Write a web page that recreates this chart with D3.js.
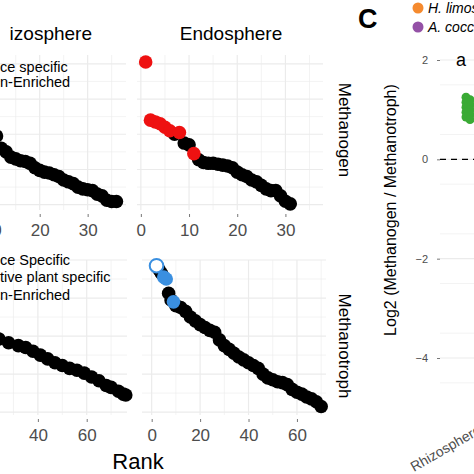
<!DOCTYPE html>
<html><head><meta charset="utf-8">
<script src="https://cdn.jsdelivr.net/npm/d3@7"></script>
<style>body{margin:0;background:#fff}svg{font-family:"Liberation Sans",Arial,sans-serif}</style>
</head><body>
<svg id="c" width="474" height="474"></svg>
<script>
// Data (ranks & values)
const rhizoMgRank = [1,2,3,4,5,6,7,8,9,10,11,12,13,14,15,16,17,18,19,20,21,22,23,24,25,26,27,28,29,30,31,32,33,34,35,36];
const rhizoMgVal  = [7.5,7,6.5,6,5.6,5.3,5,4.7,4.4,4.1,3.9,3.2,3.0,2.7,2.6,2.5,2.45,2.35,2.1,1.95,1.85,1.8,1.7,1.6,1.4,1.3,1.2,1.0,0.9,0.85,0.8,0.6,0.5,0.25,0.18,0.18];
const endoMgRank = [1,2,3,4,5,6,7,8,9,10,11,12,13,14,15,16,17,18,19,20,21,22,23,24,25,26,27,28,29,30,31];
const endoMgVal  = [8.1,4.8,4.7,4.6,4.4,4.2,4.0,4.1,3.5,3.4,2.9,2.55,2.4,2.35,2.35,2.3,2.25,2.2,2.1,1.85,1.7,1.6,1.4,1.3,1.1,0.9,0.8,0.8,0.5,0.2,0.05];
const endoMgType = ["s","s","s","s","s","s","n","s","n","n","s","n","n","n","n","n","n","n","n","n","n","n","n","n","n","n","n","n","n","n","n"];
const rhizoMtRead = [[10,9],[16,8.5],[20,8.1],[24,7.7],[28,7.3],[32,7.0],[35,6.8],[38,6.4],[41,6.0],[44,5.6],[47,5.2],[50,4.9],[53,4.6],[56,4.4],[59,4.1],[62,3.7],[65,3.3],[68,2.8],[70,2.6],[73,2.2],[75,1.9],[76,1.8]];
const endoMtRead = [[2,15.4],[3,15],[4,14.6],[5,14.2],[6,14.0],[7,12.5],[8,11.8],[9,11.6],[10,11.2],[12,11.0],[14,10.6],[16,10.0],[18,9.6],[20,9.2],[22,8.9],[24,8.6],[26,8.4],[28,7.6],[30,7.0],[32,6.6],[34,6.2],[36,5.8],[38,5.5],[40,5.2],[42,4.9],[44,4.6],[46,4.0],[48,3.6],[50,3.4],[52,3.2],[54,3.1],[56,2.9],[58,2.4],[60,2.1],[62,1.9],[64,1.6],[66,1.4],[68,1.1],[70,0.6]];
const endoMtType = {2:"open",5:"b",6:"b",9:"b"};
const ratioVals = [1.25,1.2,1.15,1.1,1.05,1.0,0.95,0.9,0.85,0.8];
const ratioTicks = [2,0,-2,-4];

const svg = d3.select("#c");
const grid = "#ebebeb";

function panel(x0,x1,y0,y1,xd,yd,xticks,minorX,yMaj){
  const id="cp"+Math.round(x0+500)+"_"+Math.round(y0);
  svg.append("clipPath").attr("id",id).append("rect").attr("x",Math.max(0,x0)).attr("y",y0-8).attr("width",x1-Math.max(0,x0)+8).attr("height",y1-y0+16);
  const x=d3.scaleLinear().domain(xd).range([x0,x1]);
  const y=d3.scaleLinear().domain(yd).range([y1,y0]);
  const gg=svg.append("g").attr("clip-path","url(#"+id+")");
  minorX.forEach(v=>gg.append("line").attr("x1",x(v)).attr("x2",x(v)).attr("y1",y0).attr("y2",y1).attr("stroke",grid).attr("stroke-width",0.6));
  xticks.forEach(v=>gg.append("line").attr("x1",x(v)).attr("x2",x(v)).attr("y1",y0).attr("y2",y1).attr("stroke",grid).attr("stroke-width",1.2));
  yMaj.forEach((v,i)=>gg.append("line").attr("x1",x0).attr("x2",x1).attr("y1",y(v)).attr("y2",y(v)).attr("stroke",grid).attr("stroke-width",i%2?0.6:1.2));
  const ax=svg.append("g").attr("transform","translate(0,"+(y1+4)+")").call(d3.axisBottom(x).tickValues(xticks).tickSize(3).tickFormat(d3.format("d")));
  ax.select(".domain").remove();ax.selectAll("line").attr("stroke","#777");
  ax.selectAll("text").attr("font-size",17).attr("fill","#4d4d4d").attr("dy","0.95em");
  return {g:gg,x,y};
}
const yMajTop=d3.range(0,8.6,1);
const yMajBot=d3.range(0,16.1,2);
const p1=panel(-61,126,55,210,[-1,38],[-0.3,8.5],[10,20,30],[15,25,35],yMajTop);
const p2=panel(137,323,55,210,[-0.8,37.8],[-0.3,8.5],[0,10,20,30],[5,15,25,35],yMajTop);
const p3=panel(-61,127,260,415,[-0.5,76.5],[-0.3,16],[20,40,60],[30,50,70],yMajBot);
const p4=panel(142,326,260,415,[-4,72],[-0.3,16],[0,20,40,60],[10,30,50,70],yMajBot);

const R=6.8;
function dots(p,data,col){
  p.g.selectAll(null).data(data).enter().append("circle")
   .attr("cx",d=>p.x(d[0])).attr("cy",d=>p.y(d[1])).attr("r",R)
   .attr("fill",d=>col(d).f).attr("stroke",d=>col(d).s).attr("stroke-width",d=>col(d).w||0);
}
dots(p1,rhizoMgRank.map((r,i)=>[r,rhizoMgVal[i]]),()=>({f:"#000",s:"none"}));
const e2=endoMgRank.map((r,i)=>[r,endoMgVal[i],endoMgType[i]]);
dots(p2,e2.filter(d=>d[2]=="n"),()=>({f:"#000",s:"none"}));
dots(p2,e2.filter(d=>d[2]=="s"),()=>({f:"#ee1111",s:"none"}));
dots(p3,rhizoMtRead,()=>({f:"#000",s:"none"}));
const e4=endoMtRead.map(d=>[d[0],d[1],endoMtType[d[0]]||"n"]);
dots(p4,e4.filter(d=>d[2]=="n"),()=>({f:"#000",s:"none"}));
dots(p4,e4.filter(d=>d[2]=="b"),()=>({f:"#3a8fe0",s:"none"}));
dots(p4,e4.filter(d=>d[2]=="open"),()=>({f:"#fff",s:"#3a8fe0",w:2}));

function txt(x,y,t,o={}){const e=svg.append("text").attr("x",x).attr("y",y).text(t).attr("font-size",o.fs||14).attr("fill",o.c||"#000");
  if(o.rot!=null)e.attr("transform",`rotate(${o.rot},${x},${y})`);if(o.a)e.attr("text-anchor",o.a);if(o.it)e.attr("font-style","italic");if(o.b)e.attr("font-weight","bold");return e;}
txt(0,72,"ce specific",{fs:14.5});txt(0,87,"n-Enriched",{fs:14.5});
txt(0,265,"ce Specific",{fs:14.5});txt(0,282,"tive plant specific",{fs:14.5});txt(0,300,"n-Enriched",{fs:14.5});
txt(92,40,"izosphere",{fs:19,a:"end"});
txt(231,40,"Endosphere",{fs:19,a:"middle"});
txt(339,130,"Methanogen",{fs:17,rot:90,a:"middle"});
txt(339,346,"Methanotroph",{fs:17,rot:90,a:"middle"});
txt(138,469,"Rank",{fs:22,a:"middle"});

txt(358,28,"C",{fs:27,b:true});
svg.append("circle").attr("cx",418).attr("cy",8).attr("r",5.5).attr("fill","#f58a2e");
svg.append("circle").attr("cx",418).attr("cy",27).attr("r",5.5).attr("fill","#9451a6");
txt(428,13,"H. limosa",{fs:14,it:true});
txt(428,32,"A. coccinea",{fs:14,it:true});
const yc=d3.scaleLinear().domain([-4,2]).range([358,60]);
[-4.5,-3.5,-2.5,-1.5,-0.5,0.5,1.5].forEach(v=>svg.append("line").attr("x1",440).attr("x2",474).attr("y1",yc(v)).attr("y2",yc(v)).attr("stroke",grid).attr("stroke-width",0.6));
ratioTicks.forEach(v=>svg.append("line").attr("x1",440).attr("x2",474).attr("y1",yc(v)).attr("y2",yc(v)).attr("stroke",grid).attr("stroke-width",1.2));
const axc=svg.append("g").attr("transform","translate(440,0)").call(d3.axisLeft(yc).tickValues(ratioTicks).tickSize(3).tickFormat(d3.format("d")));
axc.select(".domain").remove();axc.selectAll("line").attr("stroke","#777");axc.selectAll("text").attr("font-size",11).attr("fill","#4d4d4d").attr("x",-12);
svg.append("line").attr("x1",440).attr("x2",474).attr("y1",yc(0)).attr("y2",yc(0)).attr("stroke","#000").attr("stroke-dasharray","6,5").attr("stroke-width",1.3);
txt(396,210,"Log2 (Methanogen / Methanotroph)",{fs:16,rot:-90,a:"middle"});
txt(456,66,"a",{fs:18});
ratioVals.forEach((v,i)=>svg.append("circle").attr("cx",467+(i%2?3:-1)).attr("cy",yc(v)).attr("r",4.5).attr("fill","#3aaa35"));
txt(414,472,"Rhizosphere",{fs:14,rot:-30,c:"#4d4d4d"});
</script>
</body></html>
